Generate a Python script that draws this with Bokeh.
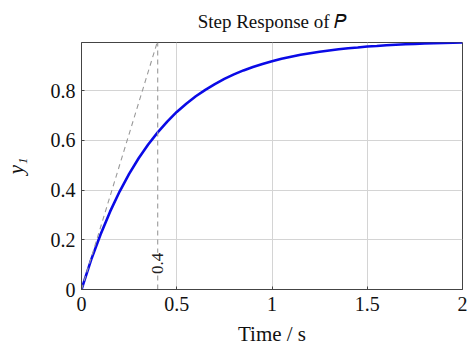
from bokeh.plotting import figure
from bokeh.models import Label, Range1d, FixedTicker
from bokeh.embed import file_html
from bokeh.resources import INLINE

# step response
t = [0.0, 0.05, 0.1, 0.15, 0.2, 0.25, 0.3, 0.35, 0.4, 0.45, 0.5, 0.55, 0.6, 0.65,
     0.7, 0.75, 0.8, 0.85, 0.9, 0.95, 1.0, 1.05, 1.1, 1.15, 1.2, 1.25, 1.3, 1.35,
     1.4, 1.45, 1.5, 1.55, 1.6, 1.65, 1.7, 1.75, 1.8, 1.85, 1.9, 1.95, 2.0]
y1 = [0.0, 0.118, 0.221, 0.313, 0.394, 0.465, 0.528, 0.583, 0.632, 0.675, 0.714,
      0.747, 0.777, 0.803, 0.826, 0.847, 0.865, 0.881, 0.895, 0.907, 0.918, 0.928,
      0.936, 0.944, 0.950, 0.956, 0.961, 0.966, 0.970, 0.973, 0.977, 0.979, 0.982,
      0.984, 0.986, 0.987, 0.989, 0.990, 0.991, 0.992, 0.993]

tangent_t = [0.0, 0.397]
tangent_y = [0.0, 0.993]
tau_t = [0.4, 0.4]
tau_y = [0.0, 0.993]
tau_label = "0.4"

x_ticks = [0, 0.5, 1, 1.5, 2]
x_tick_labels = ["0", "0.5", "1", "1.5", "2"]
y_ticks = [0, 0.2, 0.4, 0.6, 0.8]
y_tick_labels = ["0", "0.2", "0.4", "0.6", "0.8"]

title_text = "Step Response of \U0001D443"
x_label = "Time / s"
y_label = "y\u2081"

FONT = "Liberation Serif"

p = figure(width=474, height=352, output_backend="svg", toolbar_location=None,
           x_range=Range1d(0, 2), y_range=Range1d(0, 0.9933),
           min_border_left=81, min_border_right=12, min_border_top=42,
           min_border_bottom=63, title=title_text)

p.title.align = "center"
p.title.vertical_align = "top"
p.title.text_font = FONT
p.title.text_font_size = "19px"
p.title.text_font_style = "normal"
p.title.text_color = "#111"
p.title.offset = 34
p.title.standoff = 18

p.line(t, y1, line_color="#0a0ae6", line_width=2.6)
p.line(tangent_t, tangent_y, line_color="#9a9a9a", line_width=1.1, line_dash="5 4")
p.line(tau_t, tau_y, line_color="#9a9a9a", line_width=1.1, line_dash="5 4")

p.add_layout(Label(x=tau_t[0], y=0.105, text=tau_label, angle=1.5708,
                   text_align="center", text_baseline="middle",
                   text_font=FONT, text_font_size="17px", text_color="#222",
                   background_fill_color="white", background_fill_alpha=1.0))

p.xaxis.ticker = FixedTicker(ticks=x_ticks)
p.yaxis.ticker = FixedTicker(ticks=y_ticks)
p.xaxis.major_label_overrides = dict(zip(x_ticks, x_tick_labels))
p.yaxis.major_label_overrides = dict(zip(y_ticks, y_tick_labels))

for ax in (p.xaxis[0], p.yaxis[0]):
    ax.major_label_text_font = FONT
    ax.major_label_text_font_size = "20px"
    ax.major_label_text_color = "#111"
    ax.axis_label_text_font = FONT
    ax.axis_label_text_font_size = "21px"
    ax.axis_label_text_color = "#111"
    ax.axis_label_text_font_style = "normal"
    ax.axis_line_color = "#444"
    ax.major_tick_line_color = "#444"
    ax.major_tick_in = 3
    ax.major_tick_out = 0
    ax.minor_tick_line_color = None

p.xaxis.axis_label = x_label
p.yaxis.axis_label = y_label
p.yaxis.axis_label_text_font_style = "italic"
p.xaxis.major_label_standoff = 7
p.xaxis.axis_label_standoff = 8
p.yaxis.major_label_standoff = 6
p.yaxis.axis_label_standoff = 20

p.xgrid.ticker = FixedTicker(ticks=x_ticks)
p.ygrid.ticker = FixedTicker(ticks=y_ticks)
p.grid.grid_line_color = "#d4d4d4"
p.grid.grid_line_width = 1

p.outline_line_color = "#444"
p.outline_line_width = 1
p.background_fill_color = "white"
p.border_fill_color = "white"

open("out.html", "w").write(file_html(p, INLINE))
